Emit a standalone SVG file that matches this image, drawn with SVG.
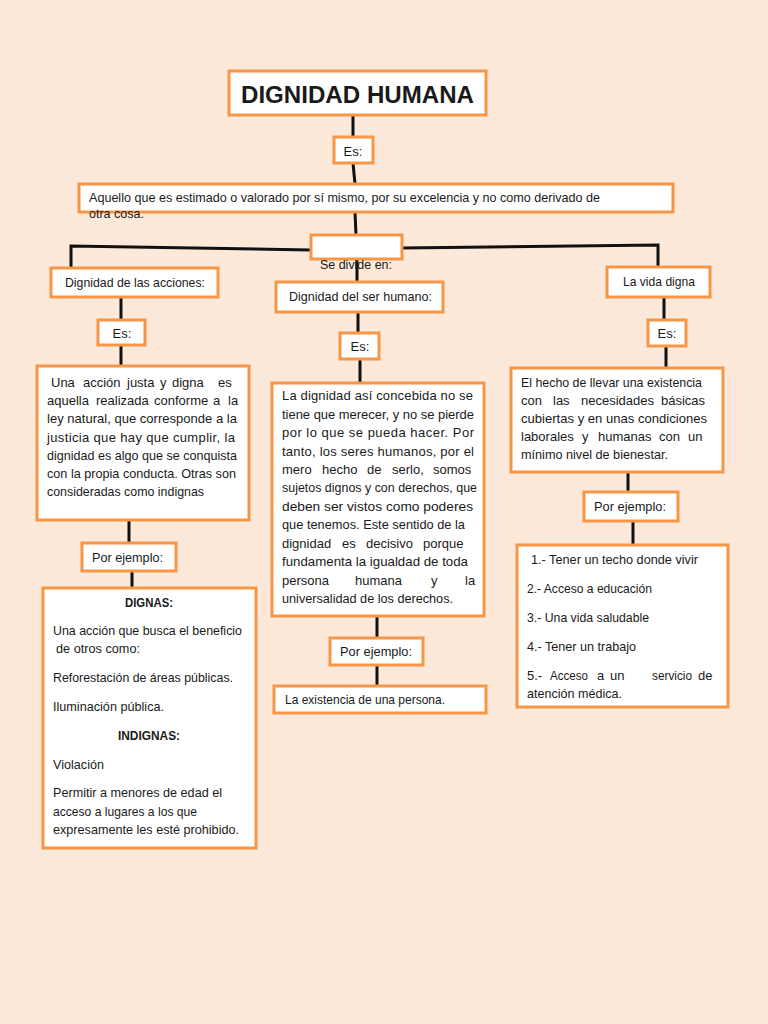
<svg xmlns="http://www.w3.org/2000/svg" width="768" height="1024" viewBox="0 0 768 1024">
<style>
.bx{fill:#ffffff;stroke:#F79646;stroke-width:3}
.t{font-family:"Liberation Sans",Arial,sans-serif;font-size:13px;fill:#1a1a1a}
.c{text-anchor:middle}
.b{font-weight:bold}
.ln{fill:none;stroke:#111;stroke-width:3;stroke-linejoin:miter}
</style>
<rect x="0" y="0" width="768" height="1024" fill="#FDE9D9"/>
<g id="connectors">
<path class="ln" d="M353 115 L353 137"/>
<path class="ln" d="M353 163 L355 184"/>
<path class="ln" d="M355 212 L356 235"/>
<path class="ln" d="M311 250 L71 246 L71 268"/>
<path class="ln" d="M402 248 L658 245 L658 267"/>
<path class="ln" d="M357 259 L357 282"/>
<path class="ln" d="M121 297 L121 320"/>
<path class="ln" d="M121 345 L121 366"/>
<path class="ln" d="M129 520 L129 543"/>
<path class="ln" d="M132 571 L132 588"/>
<path class="ln" d="M358 312 L358 333"/>
<path class="ln" d="M360 359 L360 383"/>
<path class="ln" d="M377 616 L377 638"/>
<path class="ln" d="M377 665 L377 686"/>
<path class="ln" d="M664 297 L664 320"/>
<path class="ln" d="M666 346 L666 368"/>
<path class="ln" d="M628 472 L628 492"/>
<path class="ln" d="M633 521 L633 545"/>
</g>
<g id="title">
<rect class="bx" x="229" y="71" width="257" height="44"/>
<text class="t b" x="241" y="103" style="font-size:24px" textLength="233" lengthAdjust="spacingAndGlyphs" fill="#000">DIGNIDAD HUMANA</text>
</g>
<g id="es1">
<rect class="bx" x="334" y="137" width="39" height="26"/>
<text class="t c" x="353" y="156">Es:</text>
</g>
<g id="definicion">
<rect class="bx" x="79" y="184" width="594" height="28"/>
<text class="t" x="89" y="202" textLength="511" lengthAdjust="spacingAndGlyphs">Aquello que es estimado o valorado por sí mismo, por su excelencia y no como derivado de</text>
<text class="t" x="89" y="218" textLength="55" lengthAdjust="spacingAndGlyphs">otra cosa.</text>
</g>
<g id="sedivide">
<rect class="bx" x="311" y="235" width="91" height="24"/>
<text class="t" x="320" y="269" textLength="72" lengthAdjust="spacingAndGlyphs">Se divide en:</text>
</g>
<g id="acciones">
<rect class="bx" x="51" y="268" width="167" height="29"/>
<text class="t" x="65" y="287" textLength="140" lengthAdjust="spacingAndGlyphs">Dignidad de las acciones:</text>
</g>
<g id="serhumano">
<rect class="bx" x="276" y="282" width="167" height="30"/>
<text class="t" x="289" y="301" textLength="143" lengthAdjust="spacingAndGlyphs">Dignidad del ser humano:</text>
</g>
<g id="vidadigna">
<rect class="bx" x="607" y="267" width="103" height="30"/>
<text class="t" x="623" y="286" textLength="72" lengthAdjust="spacingAndGlyphs">La vida digna</text>
</g>
<g id="es-left">
<rect class="bx" x="98" y="320" width="47" height="25"/>
<text class="t c" x="122" y="338">Es:</text>
</g>
<g id="es-center">
<rect class="bx" x="340" y="333" width="39" height="26"/>
<text class="t c" x="360" y="351">Es:</text>
</g>
<g id="es-right">
<rect class="bx" x="648" y="320" width="38" height="26"/>
<text class="t c" x="667" y="338">Es:</text>
</g>
<g id="texto-acciones">
<rect class="bx" x="37" y="366" width="212" height="154"/>
<text class="t" y="387"><tspan x="51">Una</tspan><tspan x="83">acción</tspan><tspan x="127">justa</tspan><tspan x="160">y</tspan><tspan x="172">digna</tspan><tspan x="218">es</tspan></text>
<text class="t" y="405"><tspan x="47">aquella</tspan><tspan x="96">realizada</tspan><tspan x="154">conforme</tspan><tspan x="213">a</tspan><tspan x="228">la</tspan></text>
<text class="t" x="47" y="423" textLength="190" lengthAdjust="spacingAndGlyphs">ley natural, que corresponde a la</text>
<text class="t" x="47" y="442" textLength="188" lengthAdjust="spacing">justicia que hay que cumplir, la</text>
<text class="t" x="47" y="460" textLength="190" lengthAdjust="spacingAndGlyphs">dignidad es algo que se conquista</text>
<text class="t" x="47" y="478" textLength="189" lengthAdjust="spacingAndGlyphs">con la propia conducta. Otras son</text>
<text class="t" x="47" y="496" textLength="157" lengthAdjust="spacingAndGlyphs">consideradas como indignas</text>
</g>
<g id="texto-serhumano">
<rect class="bx" x="272" y="383" width="212" height="233"/>
<text class="t" x="282" y="400" textLength="191" lengthAdjust="spacing">La dignidad así concebida no se</text>
<text class="t" x="282" y="419" textLength="192" lengthAdjust="spacingAndGlyphs">tiene que merecer, y no se pierde</text>
<text class="t" x="282" y="437" textLength="192" lengthAdjust="spacing">por lo que se pueda hacer. Por</text>
<text class="t" x="282" y="456" textLength="192" lengthAdjust="spacing">tanto, los seres humanos, por el</text>
<text class="t" y="474"><tspan x="282">mero</tspan><tspan x="322">hecho</tspan><tspan x="367">de</tspan><tspan x="392">serlo,</tspan><tspan x="433">somos</tspan></text>
<text class="t" x="282" y="492" textLength="195" lengthAdjust="spacingAndGlyphs">sujetos dignos y con derechos, que</text>
<text class="t" x="282" y="511" textLength="191" lengthAdjust="spacingAndGlyphs">deben ser vistos como poderes</text>
<text class="t" x="282" y="529" textLength="183" lengthAdjust="spacingAndGlyphs">que tenemos. Este sentido de la</text>
<text class="t" y="548"><tspan x="282">dignidad</tspan><tspan x="342">es</tspan><tspan x="366">decisivo</tspan><tspan x="423">porque</tspan></text>
<text class="t" x="282" y="566" textLength="186" lengthAdjust="spacingAndGlyphs">fundamenta la igualdad de toda</text>
<text class="t" y="585"><tspan x="282">persona</tspan><tspan x="355">humana</tspan><tspan x="431">y</tspan><tspan x="465">la</tspan></text>
<text class="t" x="282" y="603" textLength="171" lengthAdjust="spacingAndGlyphs">universalidad de los derechos.</text>
</g>
<g id="texto-vida">
<rect class="bx" x="511" y="368" width="212" height="104"/>
<text class="t" x="521" y="387" textLength="181" lengthAdjust="spacingAndGlyphs">El hecho de llevar una existencia</text>
<text class="t" y="405"><tspan x="521">con</tspan><tspan x="553">las</tspan><tspan x="581">necesidades</tspan><tspan x="661">básicas</tspan></text>
<text class="t" x="521" y="423" textLength="186" lengthAdjust="spacingAndGlyphs">cubiertas y en unas condiciones</text>
<text class="t" y="441"><tspan x="521">laborales</tspan><tspan x="582">y</tspan><tspan x="598">humanas</tspan><tspan x="659">con</tspan><tspan x="688">un</tspan></text>
<text class="t" x="521" y="459" textLength="147" lengthAdjust="spacingAndGlyphs">mínimo nivel de bienestar.</text>
</g>
<g id="ejemplo-left">
<rect class="bx" x="82" y="543" width="94" height="28"/>
<text class="t" x="92" y="562" textLength="71" lengthAdjust="spacingAndGlyphs">Por ejemplo:</text>
</g>
<g id="ejemplo-center">
<rect class="bx" x="330" y="638" width="93" height="27"/>
<text class="t" x="340" y="656" textLength="72" lengthAdjust="spacingAndGlyphs">Por ejemplo:</text>
</g>
<g id="ejemplo-right">
<rect class="bx" x="584" y="492" width="94" height="29"/>
<text class="t" x="594" y="511" textLength="72" lengthAdjust="spacingAndGlyphs">Por ejemplo:</text>
</g>
<g id="dignas">
<rect class="bx" x="43" y="588" width="213" height="260"/>
<text class="t b" x="125" y="607" textLength="48" lengthAdjust="spacingAndGlyphs">DIGNAS:</text>
<text class="t" x="53" y="635" textLength="189" lengthAdjust="spacingAndGlyphs">Una acción que busca el beneficio</text>
<text class="t" x="56" y="653" textLength="84" lengthAdjust="spacingAndGlyphs">de otros como:</text>
<text class="t" x="53" y="682" textLength="180" lengthAdjust="spacingAndGlyphs">Reforestación de áreas públicas.</text>
<text class="t" x="53" y="711" textLength="111" lengthAdjust="spacingAndGlyphs">Iluminación pública.</text>
<text class="t b" x="118" y="740" textLength="62" lengthAdjust="spacingAndGlyphs">INDIGNAS:</text>
<text class="t" x="53" y="769" textLength="51" lengthAdjust="spacingAndGlyphs">Violación</text>
<text class="t" x="53" y="797" textLength="169" lengthAdjust="spacingAndGlyphs">Permitir a menores de edad el</text>
<text class="t" x="53" y="816" textLength="144" lengthAdjust="spacingAndGlyphs">acceso a lugares a los que</text>
<text class="t" x="53" y="834" textLength="186" lengthAdjust="spacingAndGlyphs">expresamente les esté prohibido.</text>
</g>
<g id="existencia">
<rect class="bx" x="274" y="686" width="212" height="27"/>
<text class="t" x="285" y="704" textLength="160" lengthAdjust="spacingAndGlyphs">La existencia de una persona.</text>
</g>
<g id="lista">
<rect class="bx" x="517" y="545" width="211" height="162"/>
<text class="t" x="531" y="564" textLength="167" lengthAdjust="spacingAndGlyphs">1.- Tener un techo donde vivir</text>
<text class="t" x="527" y="593" textLength="125" lengthAdjust="spacingAndGlyphs">2.- Acceso a educación</text>
<text class="t" x="527" y="622" textLength="122" lengthAdjust="spacingAndGlyphs">3.- Una vida saludable</text>
<text class="t" x="527" y="651" textLength="109" lengthAdjust="spacingAndGlyphs">4.- Tener un trabajo</text>
<text class="t" y="680"><tspan x="527">5.-</tspan><tspan x="550" textLength="38" lengthAdjust="spacingAndGlyphs">Acceso</tspan><tspan x="597">a</tspan><tspan x="610">un</tspan><tspan x="652" textLength="40" lengthAdjust="spacingAndGlyphs">servicio</tspan><tspan x="698">de</tspan></text>
<text class="t" x="527" y="698" textLength="95" lengthAdjust="spacingAndGlyphs">atención médica.</text>
</g>
</svg>
